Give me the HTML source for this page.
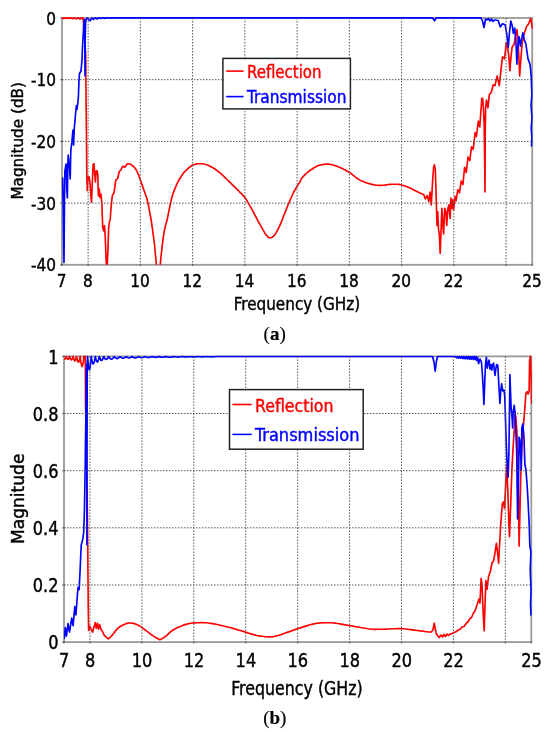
<!DOCTYPE html>
<html><head><meta charset="utf-8"><title>Reflection and Transmission</title>
<style>
html,body{margin:0;padding:0;background:#fff;}
body{width:550px;height:732px;overflow:hidden;}
svg{display:block;}
text{font-family:"DejaVu Sans Condensed","DejaVu Sans","Liberation Sans",sans-serif;fill:#000;stroke:#000;stroke-width:0.4px;}
text.cap{font-family:"Liberation Serif","DejaVu Serif",serif;stroke-width:0.15px;}
.g{stroke:#555;stroke-width:1;stroke-dasharray:1.5 1.5;fill:none;}
.ax{fill:none;stroke:#9a9a9a;stroke-width:1.8;}
.tk{stroke:#666;stroke-width:1.2;}
.r{fill:none;stroke:#ff0000;stroke-width:1.65;stroke-linejoin:round;stroke-linecap:round;}
.b{fill:none;stroke:#0000ff;stroke-width:1.65;stroke-linejoin:round;stroke-linecap:round;}
</style></head><body>
<svg width="550" height="732" viewBox="0 0 550 732">
<defs>
<clipPath id="ca"><rect x="62" y="16.8" width="470.80000000000007" height="248.0"/></clipPath>
<clipPath id="cb"><rect x="64" y="355.2" width="467.9" height="286.90000000000003"/></clipPath>
</defs>
<rect width="550" height="732" fill="#fff"/>
<rect x="62" y="18" width="470.20000000000005" height="246.8" class="ax"/>
<line x1="62.00" y1="263.8" x2="62.00" y2="266.1" class="tk"/>
<line x1="88.12" y1="263.8" x2="88.12" y2="266.1" class="tk"/>
<line x1="140.37" y1="263.8" x2="140.37" y2="266.1" class="tk"/>
<line x1="192.61" y1="263.8" x2="192.61" y2="266.1" class="tk"/>
<line x1="244.86" y1="263.8" x2="244.86" y2="266.1" class="tk"/>
<line x1="297.10" y1="263.8" x2="297.10" y2="266.1" class="tk"/>
<line x1="349.34" y1="263.8" x2="349.34" y2="266.1" class="tk"/>
<line x1="401.59" y1="263.8" x2="401.59" y2="266.1" class="tk"/>
<line x1="453.83" y1="263.8" x2="453.83" y2="266.1" class="tk"/>
<line x1="506.08" y1="263.8" x2="506.08" y2="266.1" class="tk"/>
<line x1="532.20" y1="263.8" x2="532.20" y2="266.1" class="tk"/>
<line x1="60.2" y1="18.00" x2="63" y2="18.00" class="tk"/>
<line x1="60.2" y1="79.70" x2="63" y2="79.70" class="tk"/>
<line x1="60.2" y1="141.40" x2="63" y2="141.40" class="tk"/>
<line x1="60.2" y1="203.10" x2="63" y2="203.10" class="tk"/>
<line x1="60.2" y1="264.80" x2="63" y2="264.80" class="tk"/>
<g clip-path="url(#ca)"><polyline class="r" points="62.0,17.8 63.2,18.6 64.6,17.8 66.1,18.6 67.7,17.8 69.4,18.5 71.0,17.8 72.9,18.7 74.8,17.8 76.6,18.9 78.4,17.8 80.0,19.1 81.6,17.8 82.3,18.5 83.0,17.8 83.5,22.0 83.8,29.0 84.7,40.0 85.5,52.0 85.8,60.0 85.9,86.0 86.2,110.0 86.5,140.0 86.8,175.0 87.3,190.7 87.9,177.6 89.1,176.7 90.1,183.7 90.8,195.9 91.5,202.1 92.2,185.5 93.1,164.5 94.0,163.6 94.9,176.7 95.4,182.0 96.1,171.5 97.0,170.6 97.8,175.0 98.4,196.0 99.2,189.0 100.1,197.7 101.0,194.2 101.9,204.7 102.7,227.4 103.6,230.9 104.5,225.7 105.3,237.9 106.2,262.4 107.1,268.0 108.0,248.4 108.6,229.0 109.4,222.0 110.2,219.5 110.8,211.0 111.5,202.9 112.3,195.9 114.1,192.4 115.8,180.2 117.6,178.5 119.3,171.5 121.1,169.7 121.3,169.2 121.6,168.3 122.0,167.5 122.4,166.7 122.8,166.2 123.2,166.2 123.6,166.4 124.0,166.8 124.5,167.1 124.9,167.1 125.3,166.7 125.7,166.1 126.2,165.3 126.6,164.7 127.1,164.2 127.6,163.9 128.1,163.7 128.7,163.7 129.3,163.8 130.0,164.0 130.8,164.4 131.8,165.1 132.7,165.8 133.7,166.6 134.5,167.5 135.2,168.4 135.8,169.3 136.4,170.3 136.9,171.3 137.5,172.5 138.1,173.8 138.6,175.1 139.1,176.5 139.7,178.0 140.2,179.5 140.8,181.1 141.3,182.7 141.9,184.3 142.5,185.9 143.0,187.5 143.5,189.0 144.0,190.4 144.6,191.8 145.0,193.1 145.5,194.5 145.9,195.8 146.4,197.1 146.8,198.3 147.1,199.6 147.5,201.0 147.8,202.5 148.2,204.0 148.5,205.6 148.8,207.2 149.1,209.0 149.5,210.8 149.8,212.8 150.2,214.8 150.6,216.8 151.0,219.0 151.4,221.3 151.7,223.7 152.0,226.1 152.4,228.5 152.7,230.9 153.0,233.1 153.3,235.3 153.6,237.4 153.9,239.6 154.2,242.0 154.5,244.7 154.8,247.6 155.1,250.5 155.3,253.4 155.6,256.0 155.8,258.5 156.0,261.0 156.2,263.2 156.4,265.1 156.8,266.5 157.3,267.3 158.0,267.8 158.6,267.8 159.3,267.3 159.8,266.5 160.2,265.1 160.4,263.2 160.6,261.0 160.8,258.5 161.1,256.0 161.4,253.4 161.7,250.6 162.0,247.6 162.3,244.7 162.7,241.8 163.1,238.9 163.5,236.0 164.0,233.2 164.4,230.4 164.9,228.0 165.4,226.0 165.8,224.2 166.3,222.7 166.8,221.0 167.3,219.0 167.8,216.6 168.3,214.0 168.8,211.3 169.4,208.6 169.9,206.0 170.4,203.5 171.0,201.1 171.6,198.7 172.2,196.4 172.9,194.0 173.8,191.6 174.7,189.1 175.8,186.6 176.7,184.4 177.6,182.5 178.3,181.1 178.9,180.0 179.4,179.1 180.0,178.4 180.5,177.5 181.1,176.6 181.6,175.7 182.2,174.8 182.7,174.0 183.3,173.2 183.9,172.5 184.6,171.8 185.2,171.2 185.9,170.6 186.5,170.0 187.1,169.4 187.7,168.8 188.3,168.2 188.9,167.7 189.5,167.2 190.1,166.8 190.6,166.3 191.2,166.0 191.8,165.6 192.4,165.3 193.1,165.0 193.8,164.7 194.5,164.5 195.2,164.3 196.0,164.1 196.8,163.9 197.5,163.8 198.3,163.7 199.2,163.7 200.1,163.7 201.2,163.7 202.3,163.8 203.5,164.0 204.7,164.2 206.0,164.5 207.3,165.0 208.7,165.5 210.1,166.2 211.4,166.9 212.7,167.6 213.8,168.3 214.9,169.0 215.9,169.7 216.9,170.5 218.0,171.3 219.1,172.2 220.3,173.2 221.4,174.2 222.5,175.2 223.6,176.2 224.6,177.1 225.6,178.1 226.6,179.0 227.5,180.0 228.5,180.9 229.5,181.9 230.5,182.8 231.5,183.8 232.5,184.8 233.5,185.8 234.5,186.8 235.6,187.9 236.7,189.0 237.8,190.1 238.9,191.2 240.0,192.3 241.2,193.4 242.3,194.6 243.5,195.8 244.6,197.2 245.7,198.7 246.8,200.4 247.8,202.2 248.8,203.9 249.8,205.6 250.7,207.2 251.6,208.8 252.5,210.4 253.3,212.0 254.2,213.6 255.1,215.3 256.0,217.0 256.8,218.7 257.7,220.4 258.6,222.0 259.5,223.6 260.4,225.2 261.3,226.7 262.1,228.2 262.9,229.6 263.6,230.9 264.3,232.1 264.9,233.2 265.6,234.2 266.2,235.1 266.9,235.9 267.5,236.5 268.2,237.1 268.8,237.5 269.5,237.7 270.1,237.8 270.8,237.7 271.4,237.5 272.1,237.2 272.7,236.8 273.3,236.3 274.0,235.7 274.6,234.9 275.3,234.0 276.0,232.9 276.8,231.5 277.7,229.9 278.6,228.1 279.5,226.2 280.4,224.2 281.3,222.2 282.1,220.0 283.0,217.8 283.8,215.5 284.7,213.3 285.6,211.1 286.5,208.9 287.3,206.7 288.2,204.5 289.1,202.4 290.0,200.3 290.9,198.2 291.8,196.1 292.7,194.2 293.5,192.5 294.3,191.0 295.0,189.8 295.7,188.6 296.3,187.6 297.0,186.5 297.6,185.4 298.3,184.4 298.9,183.4 299.5,182.5 300.0,181.6 300.4,180.8 300.8,180.0 301.1,179.3 301.5,178.6 302.1,177.8 302.9,176.9 303.8,175.9 304.8,174.9 305.8,173.9 306.8,173.0 307.7,172.2 308.6,171.5 309.4,170.9 310.4,170.2 311.5,169.5 312.7,168.7 314.1,167.8 315.5,166.9 317.0,166.1 318.6,165.5 320.3,165.0 322.2,164.6 324.2,164.3 326.2,164.1 328.1,164.1 330.0,164.3 332.0,164.8 334.0,165.3 335.8,165.9 337.5,166.5 338.9,167.0 340.1,167.5 341.2,168.1 342.3,168.6 343.5,169.2 344.8,169.8 346.1,170.5 347.4,171.2 348.7,171.9 349.8,172.6 350.8,173.3 351.7,174.0 352.6,174.8 353.4,175.5 354.3,176.2 355.2,176.9 356.1,177.6 357.0,178.2 357.9,178.8 358.8,179.4 359.7,179.9 360.7,180.4 361.6,180.9 362.6,181.3 363.5,181.7 364.5,182.1 365.4,182.4 366.4,182.8 367.3,183.1 368.3,183.4 369.2,183.7 370.2,183.9 371.1,184.2 372.1,184.4 373.0,184.6 373.9,184.8 374.8,185.0 375.7,185.2 376.7,185.3 377.7,185.4 378.8,185.4 380.0,185.4 381.2,185.4 382.4,185.3 383.6,185.2 384.8,185.1 386.0,184.9 387.2,184.7 388.4,184.5 389.5,184.4 390.5,184.3 391.5,184.3 392.4,184.2 393.4,184.2 394.3,184.2 395.2,184.2 396.2,184.2 397.1,184.2 398.1,184.3 399.0,184.4 399.9,184.6 400.9,184.7 401.8,185.0 402.8,185.2 403.7,185.5 404.6,185.8 405.6,186.2 406.5,186.5 407.5,186.9 408.4,187.3 409.3,187.7 410.2,188.1 411.1,188.6 412.1,189.0 413.0,189.5 413.9,190.0 414.9,190.5 415.9,191.0 416.9,191.5 417.9,192.0 419.1,192.6 420.4,193.2 421.8,193.7 422.9,194.2 423.7,194.6 425.4,198.9 427.1,195.5 428.8,201.5 430.1,192.1 431.3,204.9 432.5,182.7 433.6,167.3 434.4,164.8 435.3,169.0 435.9,187.8 436.5,208.3 437.0,225.4 437.7,211.7 438.5,228.8 439.4,235.6 440.2,253.5 441.1,228.8 441.9,208.3 442.8,225.4 443.6,233.9 444.7,208.3 445.9,211.7 446.7,225.4 447.9,208.3 448.9,204.9 450.1,218.5 451.0,198.0 451.8,208.3 452.7,199.8 453.5,210.0 455.2,196.3 456.1,200.6 457.8,189.5 459.5,192.9 461.2,181.0 462.9,184.4 464.6,167.3 466.3,172.4 468.0,157.1 469.8,160.5 471.5,146.8 473.2,149.4 475.1,132.6 476.4,136.4 478.3,121.1 479.8,126.9 481.8,98.2 482.7,98.2 483.7,113.5 484.2,126.9 484.6,155.5 485.0,191.9 485.2,136.4 485.6,107.8 486.5,100.1 487.9,107.8 489.4,94.4 491.3,92.5 493.2,84.8 495.0,85.6 497.1,76.0 499.3,85.6 500.9,70.6 502.5,56.8 504.6,58.9 506.2,42.9 507.6,47.2 508.9,56.8 509.9,70.6 511.0,56.8 512.1,47.2 514.2,44.0 515.8,33.3 516.9,29.6 517.9,38.7 519.0,60.0 519.7,76.0 520.8,60.0 522.2,42.9 524.3,33.3 526.4,26.9 528.6,23.7 530.7,18.4 532.3,28.0"/><polyline class="b" points="62.6,178.0 63.2,205.0 63.7,245.0 64.0,262.5 64.2,240.0 64.5,200.0 64.8,172.0 65.5,167.0 66.1,164.0 66.8,190.0 67.4,198.0 67.8,165.0 68.2,155.0 69.5,168.0 70.2,179.0 70.6,160.0 70.9,149.0 71.6,145.0 72.3,137.0 73.0,130.0 73.6,145.0 74.3,128.0 75.0,120.5 75.7,112.0 76.4,105.5 77.0,109.5 77.7,104.0 78.4,97.0 79.0,80.0 79.5,73.5 81.0,71.0 82.1,59.0 82.4,48.5 83.3,33.0 83.7,25.0 84.3,19.5 84.8,40.0 85.0,76.0 85.2,40.0 85.6,22.0 86.3,19.0 87.0,18.3 87.6,17.8 88.5,19.5 90.2,20.8 91.8,17.8 93.5,19.4 95.3,17.8 97.1,19.0 98.9,17.8 100.7,18.6 102.5,17.8 104.4,18.4 106.2,17.8 432.5,17.8 434.5,20.8 436.5,17.8 481.0,17.8 482.5,21.0 484.0,27.5 485.5,19.0 487.0,20.0 488.5,18.5 490.0,21.0 491.5,19.0 493.0,21.5 494.5,20.0 495.0,20.0 498.2,20.5 500.3,26.9 502.5,23.7 505.1,24.8 506.7,33.3 508.3,47.2 509.4,33.3 510.8,21.1 512.3,25.9 513.3,33.3 514.7,28.0 515.8,38.7 516.9,64.2 517.6,49.3 519.0,36.5 520.4,46.1 521.4,39.7 522.9,32.8 524.3,39.7 525.9,44.0 528.0,58.9 530.0,64.2 531.2,76.0 531.9,95.0 531.0,105.0 532.0,118.0 531.2,128.0 531.9,138.0 531.5,146.0"/></g>
<line x1="88.12" y1="18" x2="88.12" y2="264.8" class="g"/>
<line x1="140.37" y1="18" x2="140.37" y2="264.8" class="g"/>
<line x1="192.61" y1="18" x2="192.61" y2="264.8" class="g"/>
<line x1="244.86" y1="18" x2="244.86" y2="264.8" class="g"/>
<line x1="297.10" y1="18" x2="297.10" y2="264.8" class="g"/>
<line x1="349.34" y1="18" x2="349.34" y2="264.8" class="g"/>
<line x1="401.59" y1="18" x2="401.59" y2="264.8" class="g"/>
<line x1="453.83" y1="18" x2="453.83" y2="264.8" class="g"/>
<line x1="506.08" y1="18" x2="506.08" y2="264.8" class="g"/>
<line x1="62" y1="79.70" x2="532.2" y2="79.70" class="g"/>
<line x1="62" y1="141.40" x2="532.2" y2="141.40" class="g"/>
<line x1="62" y1="203.10" x2="532.2" y2="203.10" class="g"/>
<rect x="64" y="356.4" width="467.29999999999995" height="285.70000000000005" class="ax"/>
<line x1="64.00" y1="641.1" x2="64.00" y2="643.4" class="tk"/>
<line x1="89.96" y1="641.1" x2="89.96" y2="643.4" class="tk"/>
<line x1="141.88" y1="641.1" x2="141.88" y2="643.4" class="tk"/>
<line x1="193.81" y1="641.1" x2="193.81" y2="643.4" class="tk"/>
<line x1="245.73" y1="641.1" x2="245.73" y2="643.4" class="tk"/>
<line x1="297.65" y1="641.1" x2="297.65" y2="643.4" class="tk"/>
<line x1="349.57" y1="641.1" x2="349.57" y2="643.4" class="tk"/>
<line x1="401.49" y1="641.1" x2="401.49" y2="643.4" class="tk"/>
<line x1="453.42" y1="641.1" x2="453.42" y2="643.4" class="tk"/>
<line x1="505.34" y1="641.1" x2="505.34" y2="643.4" class="tk"/>
<line x1="531.30" y1="641.1" x2="531.30" y2="643.4" class="tk"/>
<line x1="62.2" y1="642.10" x2="65" y2="642.10" class="tk"/>
<line x1="62.2" y1="584.96" x2="65" y2="584.96" class="tk"/>
<line x1="62.2" y1="527.82" x2="65" y2="527.82" class="tk"/>
<line x1="62.2" y1="470.68" x2="65" y2="470.68" class="tk"/>
<line x1="62.2" y1="413.54" x2="65" y2="413.54" class="tk"/>
<line x1="62.2" y1="356.40" x2="65" y2="356.40" class="tk"/>
<g clip-path="url(#cb)"><polyline class="r" points="62.5,356.4 63.1,357.8 63.7,358.8 64.3,359.2 65.0,358.8 65.6,357.8 66.2,356.4 66.8,357.9 67.3,359.0 67.9,359.4 68.5,359.0 69.0,357.9 69.6,356.4 70.2,358.1 70.8,359.4 71.3,359.9 71.9,359.4 72.5,358.1 73.1,356.4 73.7,358.6 74.3,360.3 74.8,360.9 75.4,360.3 76.0,358.6 76.6,356.4 77.2,359.3 77.8,361.4 78.4,362.2 79.0,361.4 79.6,359.3 80.2,356.4 80.8,361.4 81.5,365.1 82.1,366.4 82.7,365.1 83.4,361.4 84.0,356.4 84.2,358.1 84.4,359.4 84.7,359.9 84.9,359.4 85.1,358.1 85.3,356.4 85.5,400.0 86.2,450.0 87.2,500.0 87.7,540.0 88.0,580.0 88.3,610.0 88.6,630.5 89.9,626.3 91.3,629.6 92.6,632.2 93.8,627.8 95.3,622.6 96.3,628.3 97.5,623.3 98.6,629.2 99.6,624.8 101.1,629.6 102.5,631.5 104.0,634.9 106.2,637.1 108.4,639.0 110.5,637.1 110.9,636.6 111.4,636.0 112.1,635.2 112.8,634.4 113.5,633.5 114.3,632.6 115.1,631.5 115.9,630.4 116.8,629.4 117.8,628.4 118.9,627.5 120.0,626.7 121.2,626.0 122.4,625.3 123.6,624.7 124.8,624.2 126.0,623.7 127.1,623.4 128.3,623.1 129.5,623.0 130.7,623.0 131.8,623.1 133.0,623.3 134.1,623.6 135.3,624.0 136.5,624.4 137.6,625.0 138.8,625.5 139.9,626.2 141.1,626.9 142.3,627.7 143.4,628.6 144.6,629.5 145.7,630.4 146.9,631.3 148.1,632.2 149.2,633.1 150.4,633.9 151.5,634.8 152.7,635.6 153.9,636.4 155.2,637.2 156.5,637.9 157.6,638.5 158.5,639.0 159.1,639.3 159.4,639.6 159.6,639.7 159.9,639.6 160.5,639.4 161.4,639.0 162.4,638.4 163.6,637.7 164.8,636.9 166.0,636.0 167.2,635.0 168.4,633.9 169.7,632.7 171.0,631.5 172.3,630.5 173.6,629.7 174.9,628.9 176.2,628.3 177.6,627.6 179.0,627.0 180.5,626.4 182.0,625.7 183.6,625.1 185.2,624.6 186.8,624.1 188.4,623.7 190.0,623.4 191.6,623.2 193.3,623.0 195.0,622.9 196.8,622.8 198.6,622.7 200.5,622.6 202.4,622.6 204.3,622.7 206.2,622.8 208.1,623.0 210.0,623.3 212.0,623.6 214.0,623.9 216.1,624.3 218.2,624.7 220.3,625.2 222.5,625.7 224.6,626.2 226.7,626.7 228.8,627.3 230.9,627.8 232.9,628.4 235.0,629.0 237.0,629.6 239.1,630.2 241.1,630.8 243.0,631.4 245.0,632.0 247.0,632.6 248.9,633.2 250.9,633.9 252.7,634.4 254.5,634.9 256.1,635.3 257.6,635.6 259.0,635.9 260.5,636.1 262.0,636.3 263.7,636.5 265.4,636.7 267.1,636.8 268.8,636.9 270.5,636.9 272.0,636.8 273.5,636.6 275.0,636.3 276.5,635.9 278.0,635.5 279.6,635.0 281.2,634.5 282.8,633.9 284.6,633.3 286.5,632.6 288.6,631.9 290.8,631.1 293.2,630.2 295.6,629.4 298.2,628.5 301.0,627.6 304.1,626.6 307.3,625.6 310.2,624.8 312.7,624.1 314.6,623.7 316.1,623.4 317.3,623.2 318.6,623.1 320.0,623.0 321.7,622.9 323.4,622.8 325.3,622.7 327.0,622.7 328.7,622.7 330.2,622.7 331.7,622.8 333.0,623.0 334.5,623.1 336.0,623.3 337.6,623.5 339.2,623.8 340.9,624.1 342.7,624.4 344.7,624.7 346.8,625.1 349.0,625.5 351.4,625.9 353.8,626.4 356.4,626.8 359.1,627.3 362.0,627.8 365.0,628.3 367.9,628.8 370.9,629.1 373.8,629.3 376.7,629.3 379.6,629.2 382.5,629.2 385.5,629.1 388.5,629.0 391.6,628.8 394.6,628.7 397.7,628.6 400.9,628.6 404.2,628.8 407.5,629.2 410.9,629.6 414.2,630.1 417.3,630.5 420.4,630.9 423.6,631.3 426.6,631.7 429.1,632.0 430.9,632.2 433.0,630.0 434.2,623.2 435.3,629.0 436.4,634.1 439.1,637.6 441.0,635.0 442.5,637.0 444.0,634.5 445.5,636.5 447.0,634.0 448.5,635.5 450.0,634.1 452.0,633.5 454.0,632.5 456.0,631.8 458.2,630.0 460.0,629.5 462.0,627.0 464.0,626.5 466.4,623.2 468.0,622.0 470.0,618.5 471.5,617.5 473.2,613.6 475.0,611.1 477.2,604.6 478.9,599.1 480.0,603.0 481.1,578.4 482.0,584.9 483.3,615.5 484.2,630.8 484.8,611.1 485.9,580.5 487.0,589.3 488.6,576.2 490.3,571.8 492.0,563.1 493.6,560.9 495.1,552.1 496.4,543.4 498.0,556.5 498.6,563.1 499.5,545.6 500.8,523.7 502.3,504.0 503.4,501.9 504.5,508.4 505.6,486.6 506.7,465.0 507.8,490.9 508.9,523.7 509.5,536.8 510.4,512.8 511.9,469.7 513.0,448.7 514.3,429.6 515.0,412.4 515.9,418.0 516.9,431.2 517.8,457.7 518.4,490.0 519.1,546.2 520.1,506.0 521.0,467.8 522.0,444.9 522.9,429.6 523.5,423.7 524.4,414.3 525.9,393.5 527.2,391.6 528.2,394.1 529.1,391.0 529.6,360.3 530.5,356.2 531.1,374.6 531.7,403.4"/><polyline class="b" points="64.2,638.3 65.3,627.7 66.4,636.2 68.0,623.5 69.5,632.0 71.7,618.2 73.1,625.6 74.8,606.5 75.9,615.0 78.0,587.5 79.1,589.6 80.1,570.5 81.2,545.1 82.9,538.7 83.7,532.4 84.4,511.2 85.2,465.0 85.8,420.0 86.2,378.0 86.5,364.0 86.8,420.0 86.9,545.0 87.1,420.0 87.3,362.0 87.6,356.5 88.2,363.2 88.8,368.2 89.4,370.0 90.0,368.2 90.6,363.2 91.2,356.5 91.9,360.2 92.6,363.0 93.2,364.0 93.9,363.0 94.6,360.2 95.3,356.5 96.0,359.2 96.6,361.3 97.3,362.0 98.0,361.3 98.6,359.2 99.3,356.5 100.0,358.5 100.8,360.0 101.5,360.5 102.2,360.0 103.0,358.5 103.7,356.5 104.5,358.0 105.3,359.1 106.2,359.5 107.0,359.1 107.8,358.0 108.6,356.5 109.5,357.8 110.5,358.8 111.4,359.1 112.3,358.8 113.3,357.8 114.2,356.5 115.2,357.6 116.1,358.3 117.1,358.6 118.1,358.3 119.0,357.6 120.0,356.5 121.0,357.4 122.0,358.1 123.0,358.3 124.0,358.1 125.0,357.4 126.0,356.5 127.0,357.2 128.0,357.8 129.0,358.0 130.0,357.8 131.0,357.2 132.0,356.5 133.1,357.2 134.2,357.7 135.2,357.9 136.3,357.7 137.4,357.2 138.5,356.5 139.6,357.1 140.7,357.5 141.8,357.7 142.8,357.5 143.9,357.1 145.0,356.5 146.2,357.0 147.3,357.4 148.5,357.5 149.7,357.4 150.8,357.0 152.0,356.5 153.2,356.9 154.3,357.3 155.5,357.4 156.7,357.3 157.8,356.9 159.0,356.5 160.2,356.9 161.3,357.2 162.5,357.3 163.7,357.2 164.8,356.9 166.0,356.5 167.3,356.9 168.7,357.1 170.0,357.2 171.3,357.1 172.7,356.9 174.0,356.5 175.3,356.8 176.7,357.0 178.0,357.1 179.3,357.0 180.7,356.8 182.0,356.5 183.3,356.8 184.7,356.9 186.0,357.0 187.3,356.9 188.7,356.8 190.0,356.5 191.3,356.7 192.7,356.9 194.0,356.9 195.3,356.9 196.7,356.7 198.0,356.5 199.5,356.7 201.0,356.8 202.5,356.9 204.0,356.8 205.5,356.7 207.0,356.5 208.5,356.7 210.0,356.8 211.5,356.9 213.0,356.8 214.5,356.7 216.0,356.5 432.5,356.5 434.0,362.0 435.2,371.2 436.3,362.0 437.5,356.5 455.0,356.5 456.8,357.9 457.7,356.5 458.7,358.1 459.6,356.5 460.5,358.2 461.4,356.5 462.4,358.4 463.3,356.5 464.2,358.6 465.1,356.5 466.1,358.8 467.0,356.5 467.9,358.9 468.8,356.5 469.8,359.1 470.7,356.5 471.6,359.3 472.5,356.5 473.5,359.4 474.4,356.5 475.3,359.6 476.2,356.5 476.8,360.5 477.7,357.5 478.6,363.6 480.0,359.1 481.4,361.8 482.3,372.7 483.2,388.2 483.9,404.5 484.5,388.2 485.5,363.6 486.4,357.3 487.3,368.2 488.2,363.6 489.1,360.0 490.0,369.1 490.9,364.5 491.8,370.0 492.7,364.5 493.6,363.2 494.3,370.0 495.0,375.5 495.9,368.2 496.8,364.5 497.8,365.4 499.2,391.0 499.9,403.4 500.7,391.0 501.7,383.9 502.7,391.0 504.0,390.0 504.8,397.2 505.4,415.7 506.0,436.2 506.8,456.8 507.5,471.1 508.1,477.3 508.9,452.7 509.5,411.6 509.9,374.6 510.5,391.0 511.1,407.5 512.2,419.8 512.6,428.0 513.2,411.6 514.2,405.4 515.1,413.7 515.9,432.1 516.7,452.7 517.2,490.0 517.6,519.0 518.1,500.0 518.7,470.0 519.1,437.2 519.8,440.3 520.8,456.8 521.3,470.0 521.8,428.0 522.9,423.9 523.9,436.2 524.9,465.0 525.9,469.1 527.0,483.5 528.0,500.0 528.7,515.0 529.3,528.0 529.8,545.0 530.9,552.0 530.2,570.0 531.1,590.0 530.5,605.0 531.0,615.0"/></g>
<line x1="89.96" y1="356.4" x2="89.96" y2="642.1" class="g"/>
<line x1="141.88" y1="356.4" x2="141.88" y2="642.1" class="g"/>
<line x1="193.81" y1="356.4" x2="193.81" y2="642.1" class="g"/>
<line x1="245.73" y1="356.4" x2="245.73" y2="642.1" class="g"/>
<line x1="297.65" y1="356.4" x2="297.65" y2="642.1" class="g"/>
<line x1="349.57" y1="356.4" x2="349.57" y2="642.1" class="g"/>
<line x1="401.49" y1="356.4" x2="401.49" y2="642.1" class="g"/>
<line x1="453.42" y1="356.4" x2="453.42" y2="642.1" class="g"/>
<line x1="505.34" y1="356.4" x2="505.34" y2="642.1" class="g"/>
<line x1="64" y1="584.96" x2="531.3" y2="584.96" class="g"/>
<line x1="64" y1="527.82" x2="531.3" y2="527.82" class="g"/>
<line x1="64" y1="470.68" x2="531.3" y2="470.68" class="g"/>
<line x1="64" y1="413.54" x2="531.3" y2="413.54" class="g"/>
<rect x="222.9" y="58.4" width="127.49999999999997" height="50.50000000000001" fill="#fff" stroke="#222" stroke-width="1.5"/>
<line x1="226.2" y1="71.1" x2="243.6" y2="71.1" stroke="#f00" stroke-width="1.6"/>
<line x1="226.2" y1="96.6" x2="243.6" y2="96.6" stroke="#00f" stroke-width="1.6"/>
<text x="247.0" y="77.7" font-size="17.5" style="fill:#f00;stroke:#f00" textLength="74.5" lengthAdjust="spacingAndGlyphs">Reflection</text>
<text x="247.0" y="103.0" font-size="17.5" style="fill:#00f;stroke:#00f" textLength="99.5" lengthAdjust="spacingAndGlyphs">Transmission</text>
<rect x="229.5" y="389.6" width="133.7" height="59.599999999999966" fill="#fff" stroke="#222" stroke-width="1.5"/>
<line x1="232.4" y1="404.5" x2="251.7" y2="404.5" stroke="#f00" stroke-width="1.6"/>
<line x1="232.4" y1="434.4" x2="251.7" y2="434.4" stroke="#00f" stroke-width="1.6"/>
<text x="255.0" y="411.8" font-size="18.3" style="fill:#f00;stroke:#f00" textLength="78.5" lengthAdjust="spacingAndGlyphs">Reflection</text>
<text x="255.0" y="441.2" font-size="18.3" style="fill:#00f;stroke:#00f" textLength="104.5" lengthAdjust="spacingAndGlyphs">Transmission</text>
<text x="55.9" y="25.1" font-size="17.3" text-anchor="end" textLength="9.73" lengthAdjust="spacingAndGlyphs">0</text>
<text x="55.9" y="86.3" font-size="17.3" text-anchor="end" textLength="24.98" lengthAdjust="spacingAndGlyphs">-10</text>
<text x="55.9" y="148.0" font-size="17.3" text-anchor="end" textLength="24.98" lengthAdjust="spacingAndGlyphs">-20</text>
<text x="55.9" y="209.7" font-size="17.3" text-anchor="end" textLength="24.98" lengthAdjust="spacingAndGlyphs">-30</text>
<text x="55.9" y="271.4" font-size="17.3" text-anchor="end" textLength="24.98" lengthAdjust="spacingAndGlyphs">-40</text>
<text x="61.7" y="286.6" font-size="17.3" text-anchor="middle" textLength="9.73" lengthAdjust="spacingAndGlyphs">7</text>
<text x="87.8" y="286.6" font-size="17.3" text-anchor="middle" textLength="9.73" lengthAdjust="spacingAndGlyphs">8</text>
<text x="140.1" y="286.6" font-size="17.3" text-anchor="middle" textLength="19.46" lengthAdjust="spacingAndGlyphs">10</text>
<text x="192.3" y="286.6" font-size="17.3" text-anchor="middle" textLength="19.46" lengthAdjust="spacingAndGlyphs">12</text>
<text x="244.6" y="286.6" font-size="17.3" text-anchor="middle" textLength="19.46" lengthAdjust="spacingAndGlyphs">14</text>
<text x="296.8" y="286.6" font-size="17.3" text-anchor="middle" textLength="19.46" lengthAdjust="spacingAndGlyphs">16</text>
<text x="349.0" y="286.6" font-size="17.3" text-anchor="middle" textLength="19.46" lengthAdjust="spacingAndGlyphs">18</text>
<text x="401.3" y="286.6" font-size="17.3" text-anchor="middle" textLength="19.46" lengthAdjust="spacingAndGlyphs">20</text>
<text x="453.5" y="286.6" font-size="17.3" text-anchor="middle" textLength="19.46" lengthAdjust="spacingAndGlyphs">22</text>
<text x="531.9" y="286.6" font-size="17.3" text-anchor="middle" textLength="19.46" lengthAdjust="spacingAndGlyphs">25</text>
<text x="297.0" y="310.4" font-size="17.5" text-anchor="middle" textLength="126.5" lengthAdjust="spacingAndGlyphs">Frequency (GHz)</text>
<text transform="translate(22.8,140.8) rotate(-90)" font-size="16" text-anchor="middle" textLength="117.5" lengthAdjust="spacingAndGlyphs">Magnitude (dB)</text>
<text x="274.7" y="340.2" font-size="19" text-anchor="middle" class="cap">(<tspan font-weight="bold">a</tspan>)</text>
<text x="58.5" y="649.3" font-size="19.5" text-anchor="end" textLength="10.30" lengthAdjust="spacingAndGlyphs">0</text>
<text x="58.5" y="592.2" font-size="19.5" text-anchor="end" textLength="25.74" lengthAdjust="spacingAndGlyphs">0.2</text>
<text x="58.5" y="535.0" font-size="19.5" text-anchor="end" textLength="25.74" lengthAdjust="spacingAndGlyphs">0.4</text>
<text x="58.5" y="477.9" font-size="19.5" text-anchor="end" textLength="25.74" lengthAdjust="spacingAndGlyphs">0.6</text>
<text x="58.5" y="420.7" font-size="19.5" text-anchor="end" textLength="25.74" lengthAdjust="spacingAndGlyphs">0.8</text>
<text x="58.5" y="364.2" font-size="19.5" text-anchor="end" textLength="10.30" lengthAdjust="spacingAndGlyphs">1</text>
<text x="64.2" y="666.8" font-size="19.5" text-anchor="middle" textLength="10.30" lengthAdjust="spacingAndGlyphs">7</text>
<text x="90.2" y="666.8" font-size="19.5" text-anchor="middle" textLength="10.30" lengthAdjust="spacingAndGlyphs">8</text>
<text x="142.1" y="666.8" font-size="19.5" text-anchor="middle" textLength="20.60" lengthAdjust="spacingAndGlyphs">10</text>
<text x="194.0" y="666.8" font-size="19.5" text-anchor="middle" textLength="20.60" lengthAdjust="spacingAndGlyphs">12</text>
<text x="245.9" y="666.8" font-size="19.5" text-anchor="middle" textLength="20.60" lengthAdjust="spacingAndGlyphs">14</text>
<text x="297.8" y="666.8" font-size="19.5" text-anchor="middle" textLength="20.60" lengthAdjust="spacingAndGlyphs">16</text>
<text x="349.8" y="666.8" font-size="19.5" text-anchor="middle" textLength="20.60" lengthAdjust="spacingAndGlyphs">18</text>
<text x="401.7" y="666.8" font-size="19.5" text-anchor="middle" textLength="20.60" lengthAdjust="spacingAndGlyphs">20</text>
<text x="453.6" y="666.8" font-size="19.5" text-anchor="middle" textLength="20.60" lengthAdjust="spacingAndGlyphs">22</text>
<text x="531.5" y="666.8" font-size="19.5" text-anchor="middle" textLength="20.60" lengthAdjust="spacingAndGlyphs">25</text>
<text x="297.0" y="694.6" font-size="19.5" text-anchor="middle" textLength="131.5" lengthAdjust="spacingAndGlyphs">Frequency (GHz)</text>
<text transform="translate(24.2,498.8) rotate(-90)" font-size="18" text-anchor="middle" textLength="90.5" lengthAdjust="spacingAndGlyphs">Magnitude</text>
<text x="274.8" y="724.3" font-size="19" text-anchor="middle" class="cap">(<tspan font-weight="bold">b</tspan>)</text>
</svg>
</body></html>
